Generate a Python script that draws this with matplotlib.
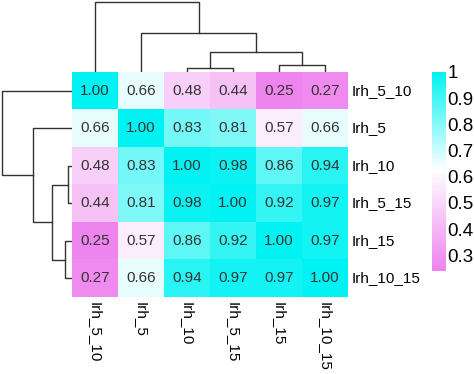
import numpy as np
import matplotlib
matplotlib.use("Agg")
import matplotlib.pyplot as plt
from matplotlib.colors import LinearSegmentedColormap

plt.rcParams['font.family'] = ['Liberation Sans', 'DejaVu Sans']

# 数据
labels = ["Irh_5_10", "Irh_5", "Irh_10", "Irh_5_15", "Irh_15", "Irh_10_15"]
corr = np.array([
    [1.00, 0.66, 0.48, 0.44, 0.25, 0.27],
    [0.66, 1.00, 0.83, 0.81, 0.57, 0.66],
    [0.48, 0.83, 1.00, 0.98, 0.86, 0.94],
    [0.44, 0.81, 0.98, 1.00, 0.92, 0.97],
    [0.25, 0.57, 0.86, 0.92, 1.00, 0.97],
    [0.27, 0.66, 0.94, 0.97, 0.97, 1.00],
])
# 聚类合并: (左节点, 右节点, 高度), 新节点编号从 6 开始
merges = [(2, 3, 4), (4, 5, 7), (6, 7, 20), (1, 8, 39), (0, 9, 70)]
cbar_ticks = [0.3, 0.4, 0.5, 0.6, 0.7, 0.8, 0.9, 1.0]
cbar_labels = ["0.3", "0.4", "0.5", "0.6", "0.7", "0.8", "0.9", "1"]

vmin, vmax = 0.24, 1.0
mid = (0.625 - vmin) / (vmax - vmin)
cmap = LinearSegmentedColormap.from_list(
    "vwc", [(0, "#EE82EE"), (mid, "#FFFFFF"), (1, "#00F2F2")])

W, H = 474, 374
fig = plt.figure(figsize=(W / 100, H / 100), dpi=100)


def px_axes(x0, y0, x1, y1):
    return fig.add_axes([x0 / W, 1 - y1 / H, (x1 - x0) / W, (y1 - y0) / H])


# 热图
ax = px_axes(72, 72, 348, 297)
ax.imshow(corr, cmap=cmap, vmin=vmin, vmax=vmax, aspect='auto',
          interpolation='nearest', extent=(0, 6, 6, 0))
for i in range(6):
    for j in range(6):
        ax.text(j + 0.5, i + 0.5, f"{corr[i, j]:.2f}", ha='center', va='center',
                fontsize=11, color='#333333')
ax.set_xlim(0, 6)
ax.set_ylim(6, 0)
ax.set_xticks([])
ax.set_yticks([])
for s in ax.spines.values():
    s.set_visible(False)
for i, lab in enumerate(labels):
    ax.text(6.07, i + 0.5, lab, ha='left', va='center', fontsize=11, color='black')
    ax.text(i + 0.5, 6.12, lab, ha='center', va='top', rotation=270,
            fontsize=11, color='black')


# 树状图
def dendro(axd, orient):
    pos = {k: k + 0.5 for k in range(6)}
    hgt = {k: 0 for k in range(6)}
    for n, (a, b, h) in enumerate(merges):
        xs = [pos[a], pos[a], pos[b], pos[b]]
        ys = [hgt[a], h, h, hgt[b]]
        if orient == 'top':
            axd.plot(xs, ys, color='#333333', lw=1)
        else:
            axd.plot(ys, xs, color='#333333', lw=1)
        pos[6 + n] = (pos[a] + pos[b]) / 2
        hgt[6 + n] = h
    axd.axis('off')


axt = px_axes(72, 0, 348, 72)
dendro(axt, 'top')
axt.set_xlim(0, 6)
axt.set_ylim(0, 72)

axl = px_axes(0, 72, 72, 297)
dendro(axl, 'left')
axl.set_xlim(72, 0)
axl.set_ylim(6, 0)

# 色条
cax = px_axes(432, 72, 446, 271)
sm = plt.cm.ScalarMappable(cmap=cmap, norm=plt.Normalize(vmin, vmax))
cb = fig.colorbar(sm, cax=cax)
cb.outline.set_visible(False)
cb.set_ticks(cbar_ticks)
cb.set_ticklabels(cbar_labels)
cax.tick_params(length=0, pad=1, labelsize=13.5)

fig.savefig("out.png", dpi=100)
